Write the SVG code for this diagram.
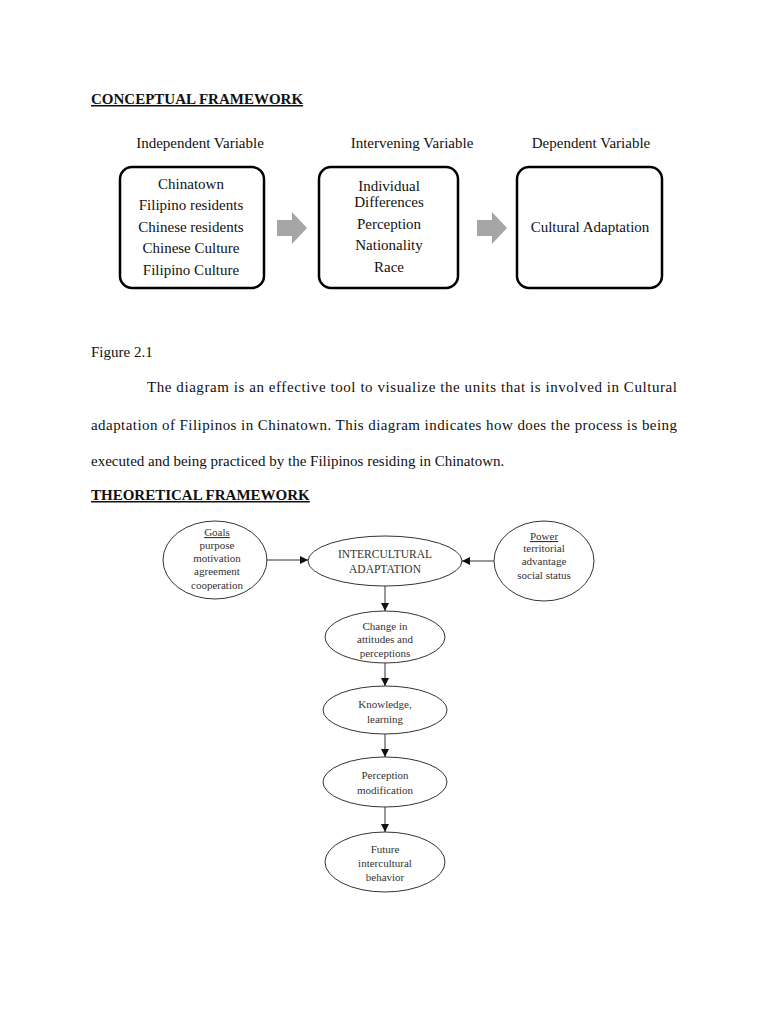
<svg xmlns="http://www.w3.org/2000/svg" width="768" height="1024" viewBox="0 0 768 1024">
<defs>
<style>
text{font-family:"Liberation Serif","Times New Roman",serif;fill:#111}
.b{font-size:15px}
.h{font-size:15px;font-weight:bold;text-decoration:underline}
.n{font-size:15px;text-anchor:middle}
.box{fill:#fff;stroke:#000;stroke-width:2.5}
.el{fill:#fff;stroke:#333;stroke-width:1}
.s{font-size:11px;text-anchor:middle;fill:#333}
.con{stroke:#333;stroke-width:1;fill:none}
.blk{fill:#a6a6a6}
</style>
<marker id="ah" viewBox="0 0 10 10" refX="10" refY="5" markerWidth="8" markerHeight="8" markerUnits="userSpaceOnUse" orient="auto"><path d="M0,0 L10,5 L0,10 z" fill="#111"/></marker>
</defs>
<rect width="768" height="1024" fill="#fff"/>
<text class="h" x="91" y="104">CONCEPTUAL FRAMEWORK</text>
<text class="n" x="200" y="148">Independent Variable</text>
<text class="n" x="412" y="148">Intervening Variable</text>
<text class="n" x="591" y="148">Dependent Variable</text>
<g id="iv">
<rect class="box" x="120" y="167" width="144" height="121" rx="12"/>
<text class="n" x="191" y="189">Chinatown</text>
<text class="n" x="191" y="210">Filipino residents</text>
<text class="n" x="191" y="232">Chinese residents</text>
<text class="n" x="191" y="253">Chinese Culture</text>
<text class="n" x="191" y="275">Filipino Culture</text>
</g>
<g id="intv">
<rect class="box" x="319" y="167" width="139" height="121" rx="12"/>
<text class="n" x="389" y="191">Individual</text>
<text class="n" x="389" y="207">Differences</text>
<text class="n" x="389" y="229">Perception</text>
<text class="n" x="389" y="250">Nationality</text>
<text class="n" x="389" y="272">Race</text>
</g>
<g id="dv">
<rect class="box" x="517" y="167" width="145" height="121" rx="12"/>
<text class="n" x="590" y="232">Cultural Adaptation</text>
</g>
<g id="blockarrows">
<path class="blk" d="M277,220 L292,220 L292,212 L307,228 L292,244 L292,236 L277,236 z"/>
<path class="blk" d="M477,220 L492,220 L492,212 L507,228 L492,244 L492,236 L477,236 z"/>
</g>
<text class="b" x="91" y="357">Figure 2.1</text>
<text class="b" x="147" y="392" textLength="530" lengthAdjust="spacing">The diagram is an effective tool to visualize the units that is involved in Cultural</text>
<text class="b" x="91" y="430" textLength="586" lengthAdjust="spacing">adaptation of Filipinos in Chinatown. This diagram indicates how does the process is being</text>
<text class="b" x="91" y="466">executed and being practiced by the Filipinos residing in Chinatown.</text>
<text class="h" x="91" y="500">THEORETICAL FRAMEWORK</text>
<g id="goals">
<ellipse class="el" cx="215" cy="560" rx="52" ry="39"/>
<text class="s" x="217" y="536" text-decoration="underline">Goals</text>
<text class="s" x="217" y="549">purpose</text>
<text class="s" x="217" y="562">motivation</text>
<text class="s" x="217" y="575">agreement</text>
<text class="s" x="217" y="589">cooperation</text>
</g>
<g id="ia">
<ellipse class="el" cx="385" cy="561" rx="77" ry="25"/>
<text class="s" x="385" y="558" style="font-size:11.5px">INTERCULTURAL</text>
<text class="s" x="385" y="573" style="font-size:11.5px">ADAPTATION</text>
</g>
<g id="power">
<ellipse class="el" cx="544" cy="561" rx="50" ry="40"/>
<text class="s" x="544" y="540" text-decoration="underline">Power</text>
<text class="s" x="544" y="552">territorial</text>
<text class="s" x="544" y="565">advantage</text>
<text class="s" x="544" y="579">social status</text>
</g>
<g id="change">
<ellipse class="el" cx="385" cy="637" rx="60" ry="26"/>
<text class="s" x="385" y="630">Change in</text>
<text class="s" x="385" y="643">attitudes and</text>
<text class="s" x="385" y="657">perceptions</text>
</g>
<g id="knowledge">
<ellipse class="el" cx="385" cy="710" rx="62" ry="24"/>
<text class="s" x="385" y="708">Knowledge,</text>
<text class="s" x="385" y="723">learning</text>
</g>
<g id="percmod">
<ellipse class="el" cx="385" cy="782" rx="62" ry="25"/>
<text class="s" x="385" y="779">Perception</text>
<text class="s" x="385" y="794">modification</text>
</g>
<g id="future">
<ellipse class="el" cx="385" cy="862" rx="60" ry="30"/>
<text class="s" x="385" y="853">Future</text>
<text class="s" x="385" y="867">intercultural</text>
<text class="s" x="385" y="881">behavior</text>
</g>
<g id="connectors">
<line class="con" x1="267" y1="560" x2="308" y2="560" marker-end="url(#ah)"/>
<line class="con" x1="494" y1="561" x2="462" y2="561" marker-end="url(#ah)"/>
<line class="con" x1="385" y1="586" x2="385" y2="611" marker-end="url(#ah)"/>
<line class="con" x1="385" y1="663" x2="385" y2="686" marker-end="url(#ah)"/>
<line class="con" x1="385" y1="734" x2="385" y2="757" marker-end="url(#ah)"/>
<line class="con" x1="385" y1="807" x2="385" y2="832" marker-end="url(#ah)"/>
</g>
</svg>
